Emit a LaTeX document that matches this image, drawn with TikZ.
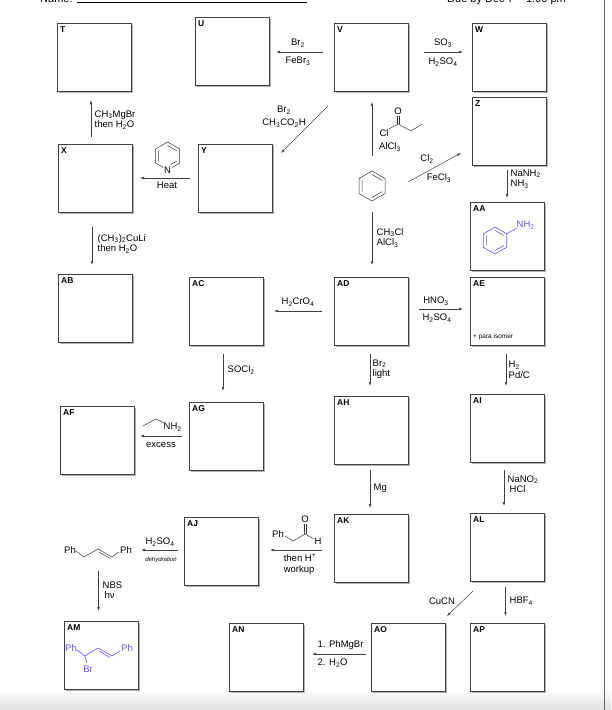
\documentclass[tikz,border=0pt]{standalone}
\usepackage{fontspec}
\setmainfont{Liberation Sans}
\usetikzlibrary{arrows.meta}
\definecolor{mol}{RGB}{110,80,255}
\newcommand{\sbs}[1]{\textsubscript{#1}}
\begin{document}
\begin{tikzpicture}[x=1pt,y=-1pt,
  box/.style={draw=black!75,line width=0.7pt,fill=white,minimum width=74pt,minimum height=68pt,inner sep=0pt,anchor=north west},
  tag/.style={anchor=north west,font=\bfseries\fontsize{8.5}{9}\selectfont,inner sep=0pt},
  lab/.style={font=\fontsize{9.5}{10.5}\selectfont,inner sep=0.5pt,align=left},
  arr/.style={draw=black!75,line width=0.5pt,-{Latex[length=4pt,width=2.6pt]}},
  bond/.style={line width=0.5pt,draw=black!80},
  mbond/.style={line width=0.6pt,draw=mol}]
\useasboundingbox (0,0) rectangle (611,710);
\clip (0,0) rectangle (611,710);
\fill[white] (0,0) rectangle (611,710);
\shade[top color=white,bottom color=black!12] (0,688) rectangle (611,710);
\draw[black!60,line width=0.8pt] (604,0) -- (604,710);
% header (cut off)
\node[anchor=base west,font=\fontsize{11}{12}\selectfont,inner sep=0] (hd1) at (40,2) {Name: \rule[-1pt]{230pt}{0.6pt}};
\node[anchor=base west,font=\fontsize{11}{12}\selectfont,inner sep=0] (hd2) at (447,2) {Due by Dec 7 – 1:00 pm};
% boxes
\foreach \n/\t/\x/\y in {T/T/57/23, U/U/195/17, V/V/334/23, W/W/472/23, Z/Z/472/97, X/X/58/144, Y/Y/198/144, AA/AA/470/202,
  AB/AB/58/274, AC/AC/189/277, AD/AD/334/277, AE/AE/470/277, AF/AF/60/406, AG/AG/189/402, AH/AH/334/396, AI/AI/470/394,
  AJ/AJ/184/517, AK/AK/334/514, AL/AL/470/513, AM/AM/64/621, AN/AN/229/623, AO/AO/371/623, AP/AP/470/623}{
  \fill[black!30] (\x+2,\y+2) rectangle ++(74,68);
  \node[box] (\n) at (\x,\y) {};
  \node[tag] (\n-t) at (\x+3,\y+3) {\t};
}
% V -> U
\draw[arr] (323,52) -- (276,52);
\node[lab] (l1) at (298,43) {Br\sbs{2}};
\node[lab] (l2) at (298,61) {FeBr\sbs{3}};
% V -> W
\draw[arr] (424,52) -- (463,52);
\node[lab] (l3) at (443,43) {SO\sbs{3}};
\node[lab] (l4) at (443,62) {H\sbs{2}SO\sbs{4}};
% V -> Y
\draw[arr] (328,106) -- (281,153);
\node[lab] (l5) at (284,110) {Br\sbs{2}};
\node[lab] (l6) at (284,123) {CH\sbs{3}CO\sbs{2}H};
% benzene
\draw[bond] (372,171) -- (385,178.5) -- (385,193.5) -- (372,201) -- (359,193.5) -- (359,178.5) -- cycle;
\draw[bond] (372,174.5) -- (382,180.3) (382,191.7) -- (372,197.5) (362,191.7) -- (362,180.3);
\coordinate (bz) at (372,186);
% benzene -> V
\draw[arr] (372,156) -- (372,102);
\draw[bond] (389,129) -- (398,124) -- (411,131) -- (422,124);
\draw[bond] (397,124) -- (397,116) (399.5,124) -- (399.5,116);
\node[lab] (o1) at (398,111) {O};
\node[lab] (cl1) at (384,133) {Cl};
\node[lab] (l7) at (390,147) {AlCl\sbs{3}};
% benzene -> Z
\draw[arr] (408,182) -- (461,153);
\node[lab] (l8) at (427,159) {Cl\sbs{2}};
\node[lab] (l9) at (439,178) {FeCl\sbs{3}};
% Z -> AA
\draw[arr] (507,170) -- (507,198);
\node[lab,anchor=west] (l10) at (510,179) {NaNH\sbs{2}\\NH\sbs{3}};
% aniline
\draw[mbond] (495,227) -- (506.7,233.8) -- (506.7,247.3) -- (495,254) -- (483.3,247.3) -- (483.3,233.8) -- cycle;
\draw[mbond] (495,230.5) -- (503.7,235.5) (503.7,245.5) -- (495,250.5) (486.3,245.5) -- (486.3,235.5);
\draw[mbond] (506.7,233.8) -- (517,228);
\node[lab,text=mol,anchor=west] (nh2a) at (516,225) {NH\sbs{2}};
% Y -> X
\draw[arr] (190,178) -- (140,178);
\draw[bond] (172,167.5) -- (179.7,163) -- (179.7,149) -- (167.6,142) -- (155.5,149) -- (155.5,163) -- (163.2,167.5);
\draw[bond] (167.6,145.5) -- (176.7,150.8) (176.7,161.2) -- (171,164.5) (158.5,161.2) -- (158.5,150.8);
\node[lab] (np) at (167.6,170) {N};
\node[lab] (l11) at (167,185) {Heat};
% X -> T
\draw[arr] (91,137) -- (91,100);
\node[lab,anchor=west] (l12) at (94,120) {CH\sbs{3}MgBr\\then H\sbs{2}O};
% benzene -> AD
\draw[arr] (372,212) -- (372,265);
\node[lab,anchor=west] (l13) at (376,238) {CH\sbs{3}Cl\\AlCl\sbs{3}};
% X -> AB
\draw[arr] (92,227) -- (92,265);
\node[lab,anchor=west] (l14) at (97,244) {(CH\sbs{3})\sbs{2}CuLi\\then H\sbs{2}O};
% AD -> AC
\draw[arr] (322,311) -- (274,311);
\node[lab] (l15) at (298,302) {H\sbs{2}CrO\sbs{4}};
% AD -> AE
\draw[arr] (419,309) -- (463,309);
\node[lab] (l16) at (436,301) {HNO\sbs{3}};
\node[lab] (l17) at (437,318) {H\sbs{2}SO\sbs{4}};
\node[anchor=west,font=\fontsize{6.5}{7}\selectfont,inner sep=0] (pi) at (473,337) {+ para isomer};
% AC -> AG
\draw[arr] (223,354) -- (223,391);
\node[lab,anchor=west] (l18) at (227,370) {SOCl\sbs{2}};
% AD -> AH
\draw[arr] (370,354) -- (370,386);
\node[lab,anchor=west] (l19) at (372,369) {Br\sbs{2}\\light};
% AE -> AI
\draw[arr] (506,354) -- (506,386);
\node[lab,anchor=west] (l20) at (508,370) {H\sbs{2}\\Pd/C};
% AG -> AF
\draw[arr] (182,436) -- (140,436);
\draw[bond] (143,426) -- (156,419) -- (164,423);
\node[lab,anchor=west] (nh2b) at (163,427) {NH\sbs{2}};
\node[lab] (l21) at (161,445) {excess};
% AH -> AK
\draw[arr] (370,470) -- (370,508);
\node[lab,anchor=west] (l22) at (373,488) {Mg};
% AI -> AL
\draw[arr] (504,470) -- (504,506);
\node[lab,anchor=west] (l23) at (507,484) {NaNO\sbs{2}\\\hspace*{2pt}HCl};
% AK -> AJ
\draw[arr] (322,550) -- (270,550);
\node[lab] (ph1) at (278,534) {Ph};
\draw[bond] (285,536) -- (293,541) -- (305,534);
\draw[bond] (304,534) -- (304,524) (306.5,534) -- (306.5,524);
\node[lab] (o2) at (305,519) {O};
\draw[bond] (305,534) -- (314,539);
\node[lab] (h1) at (318,541) {H};
\node[lab] (l24) at (300,564) {then H\textsuperscript{+}\\workup};
% AJ -> alkene
\draw[arr] (178,550) -- (141,550);
\node[lab] (l25) at (160,542) {H\sbs{2}SO\sbs{4}};
\node[font=\itshape\fontsize{6}{7}\selectfont,inner sep=0] (l26) at (161,560) {dehydration};
\node[lab] (ph2) at (70,550) {Ph};
\draw[bond] (76,551) -- (84,557) -- (98,549) -- (112,557) -- (119,552);
\draw[bond] (99,552) -- (110,558.5);
\node[lab] (ph3) at (126,550) {Ph};
% alkene -> AM
\draw[arr] (98.6,571) -- (98.6,611);
\node[lab,anchor=west] (l27) at (102,590) {NBS\\\hspace*{2pt}hν};
\node[lab,text=mol] (ph4) at (71,648) {Ph};
\draw[mbond] (77,650) -- (85,656) -- (98,648) -- (112,656) -- (120,651);
\draw[mbond] (99,651) -- (110,657.5);
\draw[mbond] (85,656) -- (87,663);
\node[lab,text=mol] (br) at (88,669) {Br};
\node[lab,text=mol] (ph5) at (127,648) {Ph};
% AO -> AN
\draw[arr] (365.5,654) -- (312,654);
\node[lab,anchor=west] (l28) at (317,645) {1. PhMgBr};
\node[lab,anchor=west] (l28b) at (317,663) {2. H\sbs{2}O};
% AL -> AO
\draw[arr] (473,591) -- (447,616);
\node[lab] (l29) at (442,601) {CuCN};
% AL -> AP
\draw[arr] (505.5,587) -- (505.5,616);
\node[lab,anchor=west] (l30) at (509,601) {HBF\sbs{4}};
\end{tikzpicture}
\end{document}
